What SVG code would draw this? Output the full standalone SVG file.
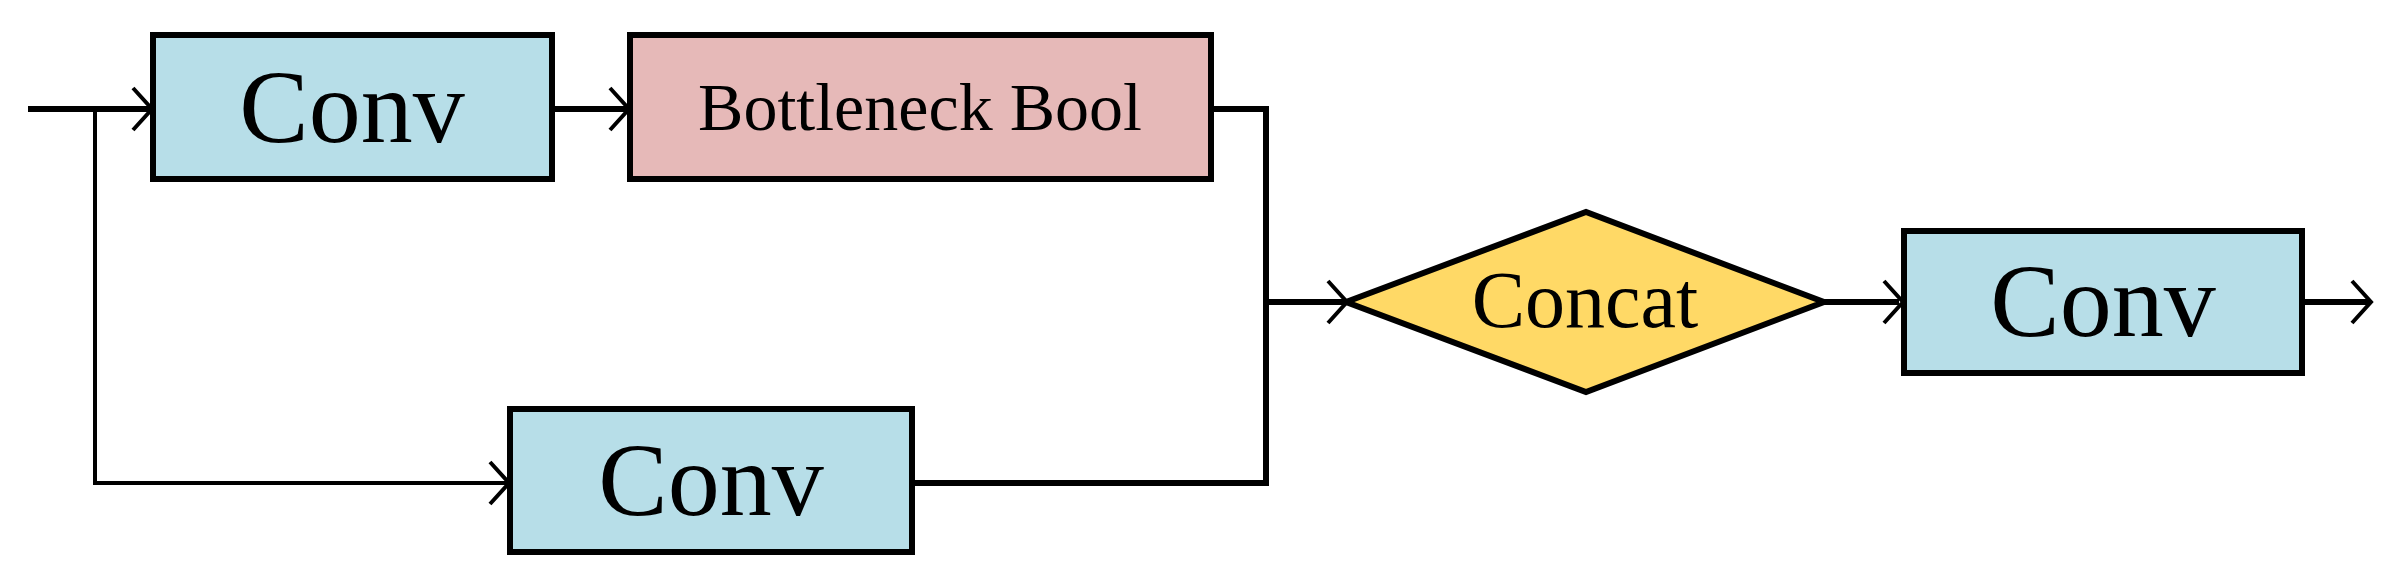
<svg xmlns="http://www.w3.org/2000/svg" width="2404" height="581" viewBox="0 0 2404 581">
<style>
.box{stroke:#000;stroke-width:6}
.conv{fill:#b7dee8}
.t{font-family:"Liberation Serif",serif;fill:#000;text-anchor:middle}
.ln{fill:none;stroke:#000;stroke-width:6}
.thin{fill:none;stroke:#000;stroke-width:4}
.ah{fill:none;stroke:#000;stroke-width:4}
</style>
<rect width="2404" height="581" fill="#fff"/>
<g id="connectors">
<path class="ln" d="M28 109 H150"/>
<path class="thin" d="M95 109 V483 H507"/>
<path class="ln" d="M552 109 H627"/>
<path class="ln" d="M1211 109 H1266 V302"/>
<path class="thin" d="M1266 109 V483"/>
<path class="ln" d="M912 483 H1266 V302 H1346"/>
<path class="ln" d="M1824 302 H1899"/>
<path class="ln" d="M2302 302 H2371"/>
<path class="ah" d="M133 88 L152 109 L133 130"/>
<path class="ah" d="M610 88 L629 109 L610 130"/>
<path class="ah" d="M490 462 L509 483 L490 504"/>
<path class="ah" d="M1328 281 L1347 302 L1328 323"/>
<path class="ah" d="M1884 281 L1903 302 L1884 323"/>
<path class="ah" d="M2352 281 L2371 302 L2352 323"/>
</g>
<g id="conv1"><rect class="box conv" x="153" y="35" width="399" height="144"/><text class="t" x="352" y="142" font-size="104">Conv</text></g>
<g id="bottleneck"><rect class="box" fill="#e6b9b8" x="630" y="35" width="581" height="144"/><text class="t" x="920" y="130" font-size="68">Bottleneck Bool</text></g>
<g id="conv2"><rect class="box conv" x="510" y="409" width="402" height="143"/><text class="t" x="711" y="515" font-size="104">Conv</text></g>
<g id="concat"><polygon class="box" fill="#ffd966" points="1346,302 1586,212 1824,302 1586,392"/><text class="t" x="1585" y="327" font-size="80">Concat</text></g>
<g id="conv3"><rect class="box conv" x="1904" y="231" width="398" height="142"/><text class="t" x="2103" y="336" font-size="104">Conv</text></g>
</svg>
